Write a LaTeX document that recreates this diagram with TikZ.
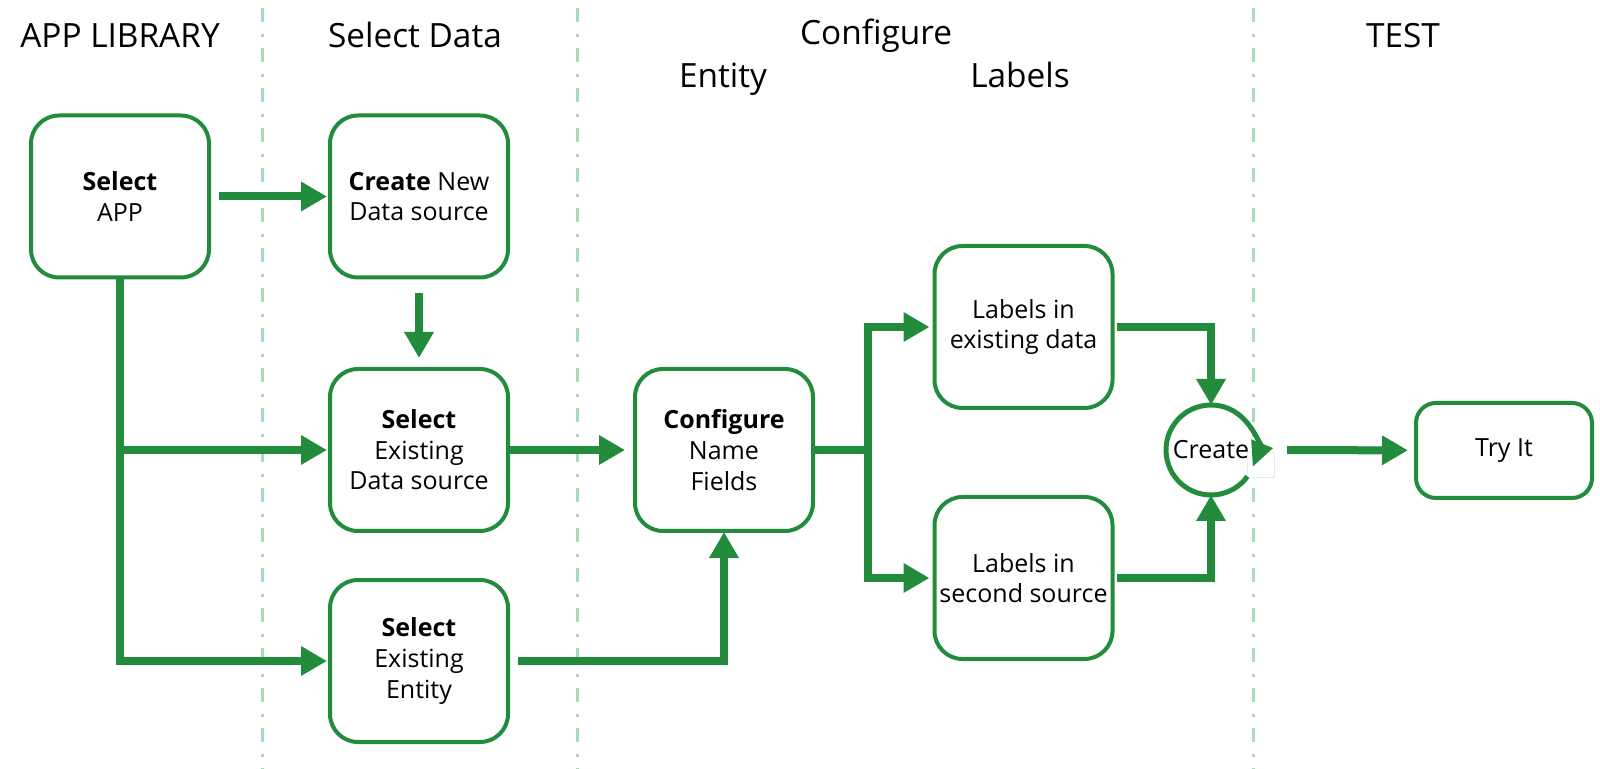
\documentclass[tikz,border=0pt]{standalone}
\usepackage{fontspec}
\setmainfont{Open Sans}
\usetikzlibrary{arrows.meta}
\definecolor{flowgreen}{HTML}{228B3C}
\definecolor{lane}{HTML}{A8DCB5}
\definecolor{ink}{HTML}{000000}
\tikzset{
  box/.style={draw=flowgreen, line width=2pt, rounded corners=14pt, fill=white, text=ink,
    align=center, font=\fontsize{12.5}{15.3}\selectfont, minimum width=89pt, minimum height=81pt,
    inner sep=0pt, outer sep=0pt},
  smallbox/.style={box, rounded corners=10pt, minimum height=47.5pt},
  ringnode/.style={circle, minimum size=45pt, inner sep=0pt, outer sep=0pt, text=ink,
    font=\fontsize{12.5}{15}\selectfont},
  ring/.style={draw=flowgreen, line width=2.5pt, -{Triangle[length=12.5pt,width=11pt]}},
  flow/.style={draw=flowgreen, line width=4pt, -{Triangle[length=13pt,width=14pt]}},
  lanes/.style={draw=lane, line width=1.5pt, dash pattern=on 7pt off 6pt on 1.5pt off 5.5pt},
  head/.style={text=ink, font=\fontsize{16.7}{20}\selectfont, anchor=base, inner sep=0pt}
}

\begin{document}
\begin{tikzpicture}[x=0.5pt, y=0.5pt]
  \useasboundingbox (0,0) rectangle (1600,-769);

  % swim lanes
  \foreach \x in {262,577,1253}
    \draw[lanes] (\x,-8) -- (\x,-769);

  % column titles
  \node[head] (tlib) at (120,-48) {APP LIBRARY};
  \node[head] (tdata) at (415,-48) {Select Data};
  \node[head] (tconf) at (876,-45) {Configure};
  \node[head] (tent) at (723,-88) {Entity};
  \node[head] (tlab) at (1020,-88) {Labels};
  \node[head] (ttest) at (1403,-48) {TEST};

  % steps
  \node[box] (app) at (120,-196.5) {\textbf{Select}\\APP};
  \node[box] (newds) at (419,-196.5) {\textbf{Create} New\\Data source};
  \node[box] (oldds) at (419,-450) {\textbf{Select}\\Existing\\Data source};
  \node[box] (oldent) at (419,-661) {\textbf{Select}\\Existing\\Entity};
  \node[box] (conf) at (724,-450) {\textbf{Configure}\\Name\\Fields};
  \node[box] (labold) at (1023.5,-327) {Labels in\\existing data};
  \node[box] (labnew) at (1023.5,-578) {Labels in\\second source};
  \node[ringnode] (create) at (1211,-450) {Create};
  \node[smallbox, minimum width=88pt] (try) at (1504,-450.5) {Try It};

  % create ring
  \fill[white, draw=black!8, line width=0.4pt] (1247,-452) rectangle (1274,-477);
  \draw[ring] (create.-36) arc[start angle=-36, end angle=-382, radius=22.5pt];

  % connectors
  \draw[flow, shorten <=5pt, shorten >=1.5pt] (app) -- (newds);
  \draw[flow, shorten <=8pt, shorten >=5.5pt] (newds) -- (oldds);
  \draw[flow, shorten >=1.5pt] (app.south) |- (oldent.west);
  \draw[flow, shorten >=1.5pt] (app.south |- oldds.west) -- (oldds.west);
  \draw[flow, shorten <=1pt, shorten >=5pt] (oldds) -- (conf);
  \draw[flow, shorten <=5pt, shorten >=0.5pt] (oldent.east) -| (conf.south);
  \coordinate (split) at (868,-450);
  \draw[flow, shorten >=2.5pt] (conf.east) -- (split) |- (labold.west);
  \draw[flow, shorten >=2.5pt] (split) |- (labnew.west);
  \draw[flow, shorten <=2pt] (labold.east) -| (create.north);
  \draw[flow, shorten <=2pt] (labnew.east) -| (create.south);
  \draw[flow, shorten <=15.5pt, shorten >=4pt] (create) -- (try);
\end{tikzpicture}
\end{document}
